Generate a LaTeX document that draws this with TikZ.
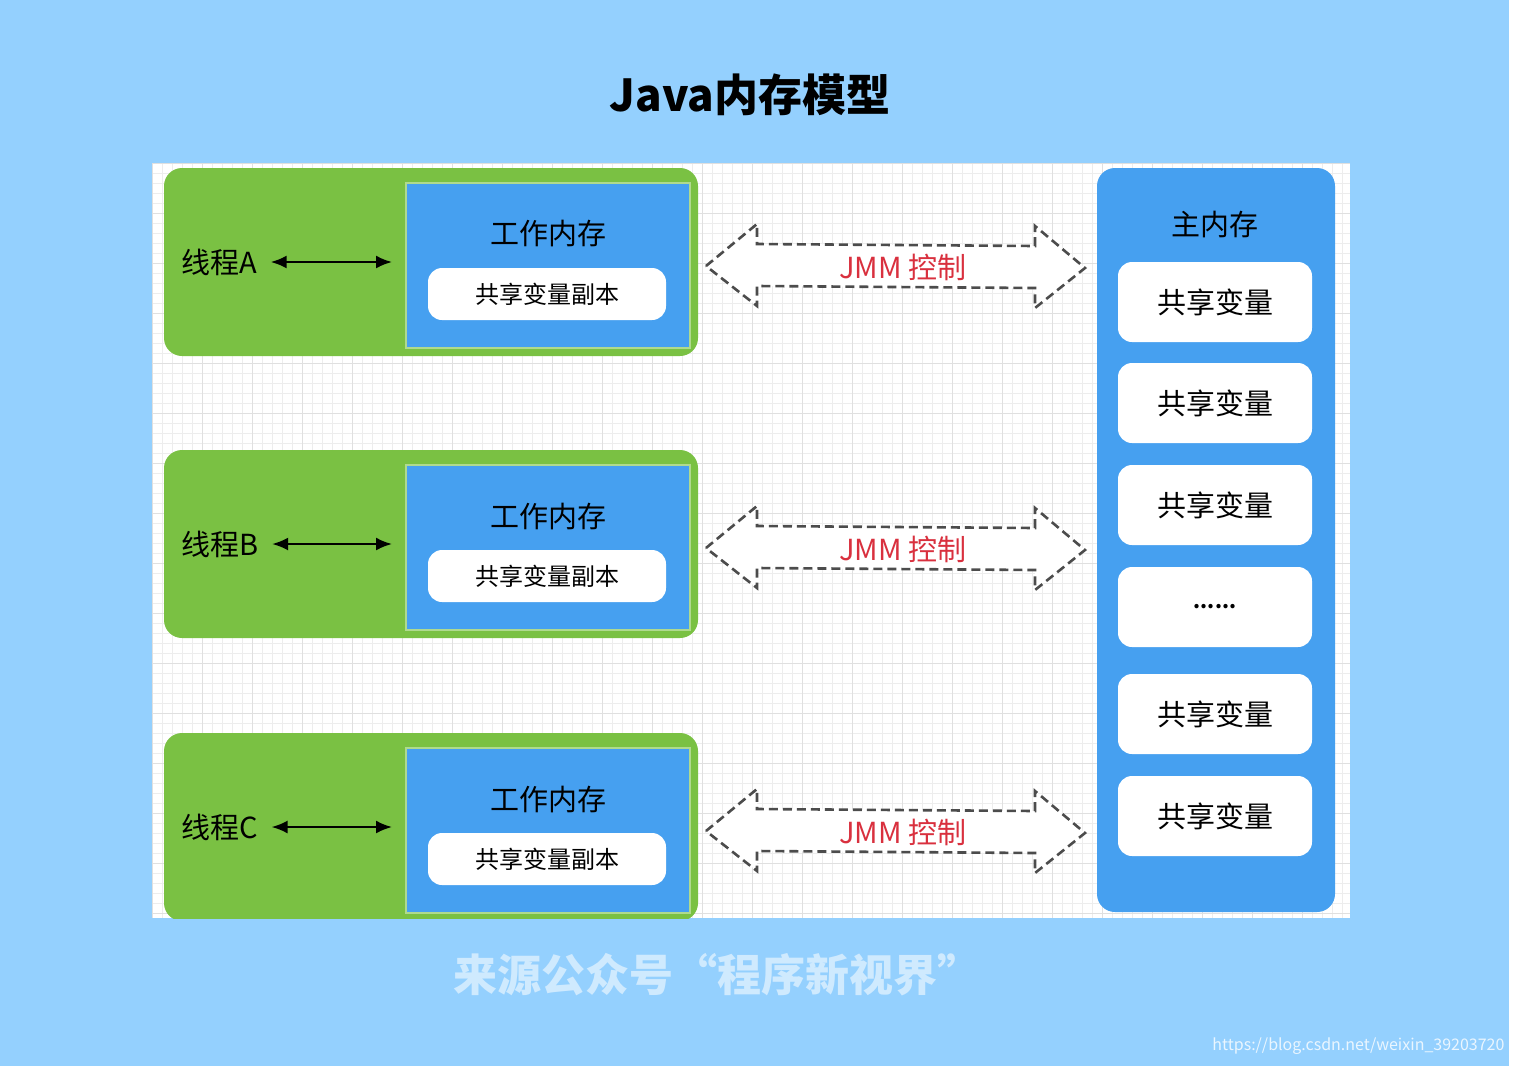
\documentclass[tikz,border=0pt]{standalone}
\usepackage{fontspec}
\setmainfont{Noto Sans CJK SC}
\usetikzlibrary{arrows.meta}
\definecolor{bg}{HTML}{94D0FE}
\definecolor{grn}{HTML}{7AC143}
\definecolor{blu}{HTML}{46A0F0}
\definecolor{jmm}{HTML}{D9303E}
\begin{document}
\begin{tikzpicture}[x=1pt,y=-1pt,
  pill/.style={fill=white,rounded corners=14pt,draw=none},
  lbl/.style={font=\fontsize{29}{30}\selectfont},
  jarrow/.style={draw=black!70,line width=2.6pt,fill=white,dash pattern=on 9pt off 5pt}]
\useasboundingbox (0,0) rectangle (1518,1066);
\fill[bg] (0,0) rectangle (1509,1066);
\fill[white] (1509,0) rectangle (1518,1066);
\node[font=\bfseries\fontsize{44}{46}\selectfont] (title) at (750,95) {Java内存模型};
% panel
\fill[white] (152,163) rectangle (1350,918);
\foreach \x in {152,162,...,1350}{\draw[black!7] (\x,163) -- (\x,918);}
\foreach \y in {163,173,...,918}{\draw[black!7] (152,\y) -- (1350,\y);}
\foreach \x in {152,202,...,1350}{\draw[black!12] (\x,163) -- (\x,918);}
\foreach \y in {163,213,...,918}{\draw[black!12] (152,\y) -- (1350,\y);}
% threads
\foreach \n/\t/\y in {A/A/168,B/B/450,C/C/733}{
  \begin{scope}
  \clip (152,163) rectangle (1350,918);
  \fill[grn,rounded corners=18pt] (164,\y) rectangle (698,\y+188);
  \end{scope}
  \fill[blu] (406,\y+15) rectangle (690,\y+180);
  \draw[grn!60,line width=1.5pt] (406,\y+15) rectangle (690,\y+180);
  \node[lbl] (wm\n) at (548,\y+66) {工作内存};
  \node[pill,minimum width=238pt,minimum height=52pt,font=\fontsize{24}{26}\selectfont] (cp\n) at (547,\y+126) {共享变量副本};
  \node[lbl,anchor=west] (th\n) at (178,\y+94) {线程\t};
  \coordinate (ae\n) at (392,\y+94);
  \draw[{Latex[length=16pt,width=13pt]}-{Latex[length=16pt,width=13pt]},line width=2.2pt] (th\n.east) ++(10,0) -- (ae\n);
  \draw[jarrow] (706,\y+98) -- (757,\y+56) -- (757,\y+76) -- (1035,\y+78) -- (1035,\y+58) -- (1085,\y+100) -- (1035,\y+140) -- (1035,\y+120) -- (757,\y+118) -- (757,\y+138) -- cycle;
  \node[lbl,text=jmm] (jm\n) at (903,\y+99) {JMM 控制};
}
% main memory
\fill[blu,rounded corners=18pt] (1097,168) rectangle (1335,912);
\node[lbl] (mm) at (1215,225) {主内存};
\foreach \i/\y/\s in {1/302/共享变量,2/403/共享变量,3/505/共享变量,4/607/{\fontsize{20}{20}\selectfont\bfseries ......},5/714/共享变量,6/816/共享变量}{
  \node[pill,minimum width=194pt,minimum height=80pt,lbl] (sv\i) at (1215,\y) {\s};
}
\node[font=\bfseries\fontsize{44}{46}\selectfont,text=white!55!bg] (wmk) at (717,975) {来源公众号“程序新视界”};
\node[font=\fontsize{16}{18}\selectfont,text=white!80!bg,anchor=east] (url) at (1508,1046) {https://blog.csdn.net/weixin\_39203720};
\end{tikzpicture}
\end{document}
